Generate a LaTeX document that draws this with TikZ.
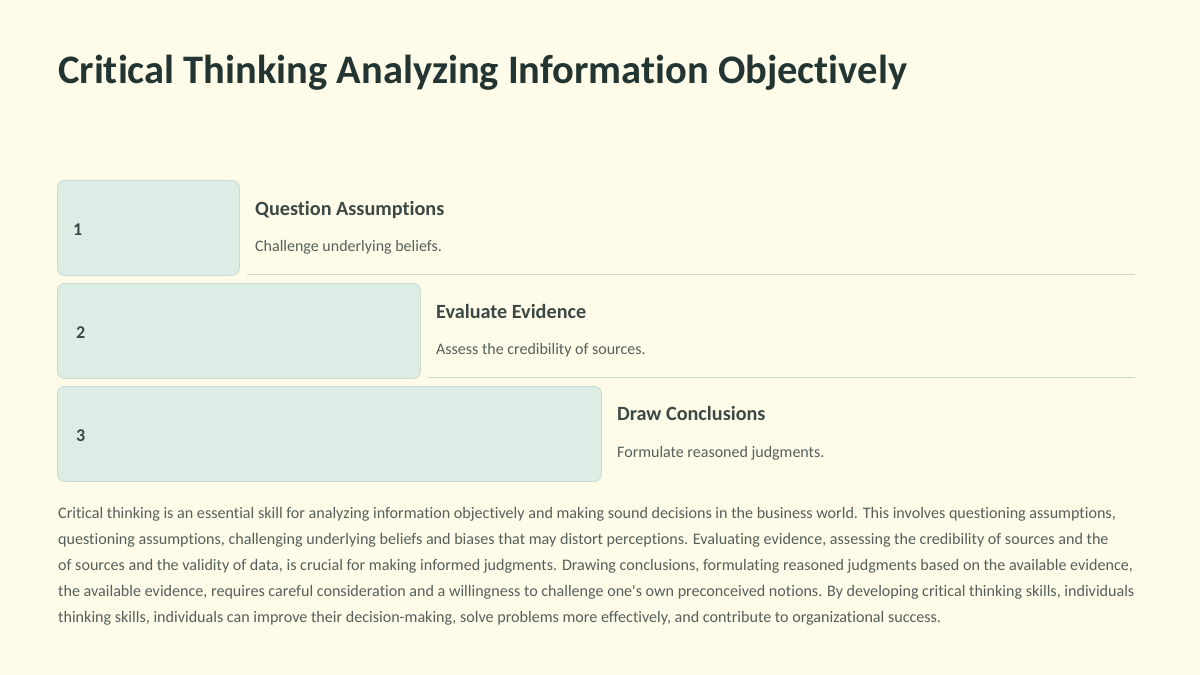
\documentclass[tikz,border=0pt]{standalone}
\usepackage{fontspec}
\setmainfont{Carlito}[RawFeature={-liga;-clig}]
\definecolor{bg}{HTML}{FEFCE8}
\definecolor{boxfill}{HTML}{DDEDE6}
\definecolor{boxline}{HTML}{C9DACF}
\definecolor{titlec}{HTML}{233532}
\definecolor{headc}{HTML}{3B4845}
\definecolor{bodyc}{HTML}{565F5C}
\definecolor{rulec}{HTML}{C8D8CF}
\tikzset{
  stepbox/.style={draw=boxline, line width=0.8pt, fill=boxfill, rounded corners=7pt, anchor=north west, inner sep=0pt},
  numlabel/.style={anchor=base west, inner sep=0pt, font=\fontsize{18}{20}\selectfont\bfseries, text=headc},
  headlabel/.style={anchor=base west, inner sep=0pt, font=\fontsize{20.2}{22}\selectfont\bfseries, text=headc},
  sublabel/.style={anchor=base west, inner sep=0pt, font=\fontsize{16}{18}\selectfont, text=bodyc},
  paraline/.style={anchor=base west, inner sep=0pt, font=\fontsize{16.1}{18}\selectfont, text=bodyc},
  sepline/.style={draw=rulec, line width=0.9pt},
}
\begin{document}
\begin{tikzpicture}[x=1pt,y=-1pt]
\fill[bg] (0,0) rectangle (1200,675);
\useasboundingbox (0,0) rectangle (1200,675);

\node[anchor=base west, inner sep=0pt, font=\fontsize{40.5}{44}\selectfont\bfseries, text=titlec] (title) at (58,83) {Critical Thinking Analyzing Information Objectively};

% boxes
\node[stepbox, minimum width=182pt, minimum height=95pt] (b1) at (57,180) {};
\node[stepbox, minimum width=363pt, minimum height=95pt] (b2) at (57,283) {};
\node[stepbox, minimum width=544pt, minimum height=95pt] (b3) at (57,386) {};

\node[numlabel] (n1) at (73,235) {1};
\node[numlabel] (n2) at (76,338) {2};
\node[numlabel] (n3) at (76,441) {3};

\node[headlabel] (h1) at (255,215) {Question Assumptions};
\node[sublabel] (s1) at (255,251) {Challenge underlying beliefs.};
\node[headlabel] (h2) at (436,318) {Evaluate Evidence};
\node[sublabel] (s2) at (436,354) {Assess the credibility of sources.};
\node[headlabel] (h3) at (617,420) {Draw Conclusions};
\node[sublabel] (s3) at (617,457) {Formulate reasoned judgments.};

\coordinate (l1a) at (247,274);
\coordinate (l1b) at (1135,274);
\coordinate (l2a) at (428,377);
\coordinate (l2b) at (1135,377);
\draw[sepline] (l1a) -- (l1b);
\draw[sepline] (l2a) -- (l2b);

\node[paraline] (p1) at (58,518) {Critical thinking is an essential skill for analyzing information objectively and making sound decisions in the business world. This involves questioning assumptions,};
\node[paraline] (p2) at (58,544) {questioning assumptions, challenging underlying beliefs and biases that may distort perceptions. Evaluating evidence, assessing the credibility of sources and the};
\node[paraline] (p3) at (58,570) {of sources and the validity of data, is crucial for making informed judgments. Drawing conclusions, formulating reasoned judgments based on the available evidence,};
\node[paraline] (p4) at (58,596) {the available evidence, requires careful consideration and a willingness to challenge one\textquotesingle s own preconceived notions. By developing critical thinking skills, individuals};
\node[paraline] (p5) at (58,622) {thinking skills, individuals can improve their decision-making, solve problems more effectively, and contribute to organizational success.};
\end{tikzpicture}
\end{document}
